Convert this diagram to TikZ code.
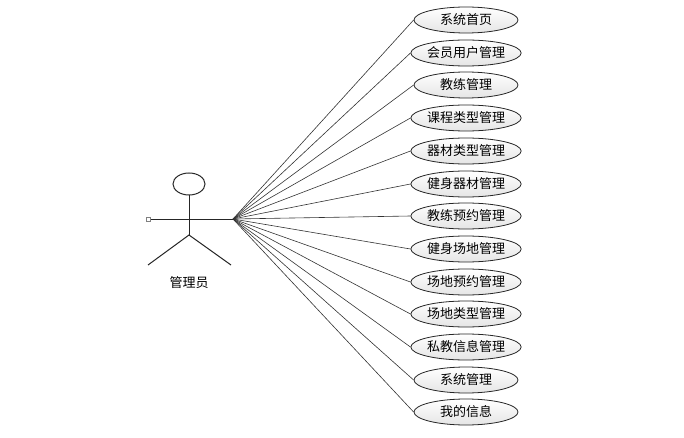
\documentclass[tikz,border=0pt]{standalone}
\usepackage{fontspec}
\newfontfamily\cjk{Noto Sans CJK SC}
\usetikzlibrary{shapes.geometric}
\begin{document}
\begin{tikzpicture}[x=1pt,y=-1pt,
  uc/.style={ellipse,draw=black!85,line width=0.8pt,top color=white,bottom color=black!10,
    minimum width=104pt,minimum height=26pt,inner sep=0pt,font=\cjk\fontsize{13}{15}\selectfont},
  link/.style={draw=black!80,line width=0.6pt},
  actorline/.style={draw=black!85,line width=1pt}]
\useasboundingbox (0,0) rectangle (684,438);
% actor
\draw[actorline] (189,184) ellipse [x radius=16, y radius=11];
\coordinate (neck) at (189,195);
\coordinate (hip) at (189,235);
\coordinate (lh) at (148,219);
\coordinate (rh) at (233,219);
\coordinate (lf) at (148,265);
\coordinate (rf) at (231,265);
\draw[actorline] (neck) -- (hip);
\draw[actorline] (lh) -- (rh);
\draw[actorline] (lf) -- (hip) -- (rf);
\node[draw=black!50,fill=white,minimum size=3.5pt,inner sep=0pt] (sq) at (lh) {};
\node[font=\cjk\fontsize{13}{15}\selectfont] (act) at (189,283) {管理员};
% use cases
\node[uc] (u1) at (466,20) {系统首页};
\node[uc] (u2) at (466,53) {会员用户管理};
\node[uc] (u3) at (466,85) {教练管理};
\node[uc] (u4) at (466,118) {课程类型管理};
\node[uc] (u5) at (466,151) {器材类型管理};
\node[uc] (u6) at (466,184) {健身器材管理};
\node[uc] (u7) at (466,216) {教练预约管理};
\node[uc] (u8) at (466,249) {健身场地管理};
\node[uc] (u9) at (466,282) {场地预约管理};
\node[uc] (u10) at (466,314) {场地类型管理};
\node[uc] (u11) at (466,347) {私教信息管理};
\node[uc] (u12) at (466,380) {系统管理};
\node[uc] (u13) at (466,412) {我的信息};
\foreach \i in {1,...,13}{\draw[link] (rh) -- (u\i.west);}
\end{tikzpicture}
\end{document}
